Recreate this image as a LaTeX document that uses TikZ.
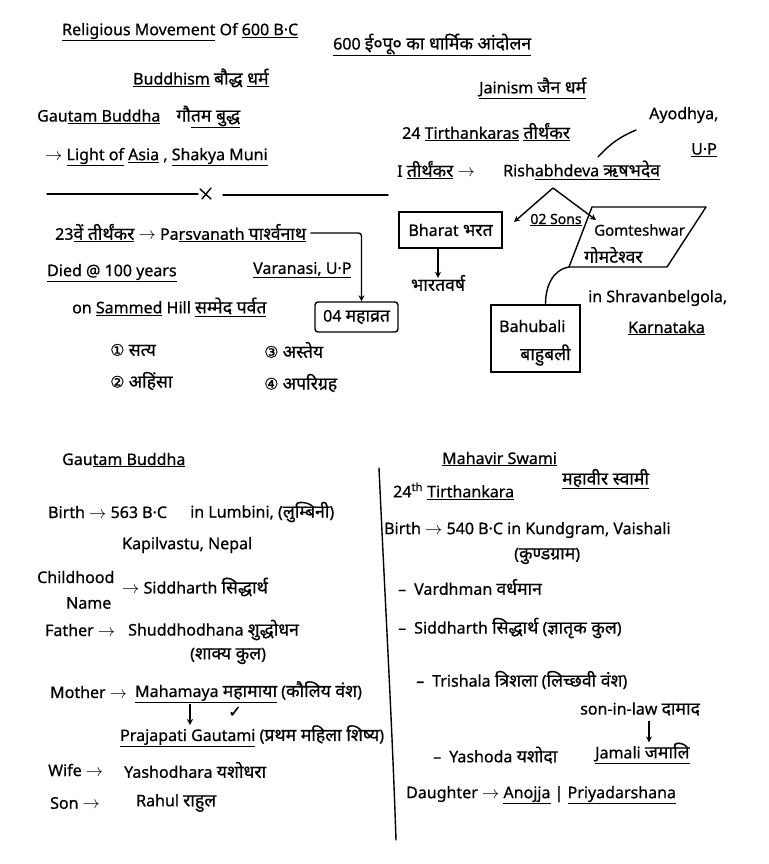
\documentclass[tikz,border=0pt]{standalone}
\usepackage{fontspec}
\setmainfont{Noto Sans}
\newfontfamily\latfont{Noto Sans}[FakeBold=0.6]
\newfontfamily\devfont[Script=Devanagari,Scale=1.1,FakeBold=0.6]{Noto Sans}
\newfontfamily\djv{DejaVu Sans}[FakeBold=0.6]
\usetikzlibrary{arrows.meta}
\newcommand\hi[1]{{\devfont #1}}
\newcommand\und[1]{\underline{#1}}
\begin{document}
\begin{tikzpicture}[x=1pt,y=-1pt,
  font=\latfont\fontsize{16}{18}\selectfont,
  txt/.style={anchor=west,inner sep=0pt},
  ctr/.style={inner sep=0pt},
  line/.style={line width=1.4pt,line cap=round},
  arr/.style={line width=1.4pt,-{Stealth[length=6pt,width=6pt]}},
  boxed/.style={draw,line width=1.4pt}]
\fill[white] (0,0) rectangle (768,864);
\useasboundingbox (0,0) rectangle (768,864);

% ---------- top ----------
\node[txt] (title) at (62,32) {\und{Religious Movement} Of \und{600 B·C}};
\node[txt] (htitle) at (333,45) {\und{600 \hi{ई०पू० का धार्मिक आंदोलन}}};
\node[txt] (buddhism) at (133,78) {\und{Buddhism} \hi{बौद्ध \und{धर्म}}};
\node[txt] (jainism) at (479,88) {\und{Jainism \hi{जैन धर्म}}};

\node[txt] (gb1) at (37,117) {Gau\und{tam Buddha}\quad \hi{गौ\und{तम बुद्ध}}};
\node[txt] (light) at (45,157) {$\to$ \und{Light of} \und{Asia} , \und{Shakya Muni}};

\node[txt] (t24) at (402,132) {24 \und{Tirthankaras} \und{\hi{तीर्थंकर}}};
\node[txt] (ayodhya) at (649,115) {Ayodhya,};
\node[txt] (up) at (691,150) {\und{U·P}};
\node[txt] (first) at (397,170) {I \und{\hi{तीर्थंकर}} $\to$};
\node[txt] (rishabh) at (503,170) {Rish\und{abhdeva \hi{ऋषभदेव}}};
\coordinate (ay1) at (598,157);
\coordinate (ay2) at (636,130);
\draw[line] (ay1) to[bend left=12] (ay2);

% separator
\coordinate (s1) at (47,194);
\coordinate (s2) at (198,194);
\coordinate (s3) at (223,195);
\coordinate (s4) at (388,195);
\draw[line] (s1) -- (s2);
\draw[line] (s3) -- (s4);
\draw[line] (200,189) -- (211,199);
\draw[line] (202,199) -- (211,188);

% ---------- Jain upper right ----------
\coordinate (apex) at (553,188);
\coordinate (bt) at (514,222);
\coordinate (gt) at (596,220);
\draw[arr] (apex) -- (bt);
\draw[arr] (apex) -- (gt);
\node[ctr,font=\latfont\fontsize{14}{16}\selectfont] (sons) at (556,220) {\und{02 Sons}};

\node[boxed,minimum width=103pt,minimum height=36pt,inner sep=2pt] (bharat) at (450.5,230) {Bharat \hi{भरत}};
\node[ctr] (bhv) at (438,283) {\hi{भारतवर्ष}};
\draw[arr] (bharat.south -| bhv.north) -- ([yshift=-3pt]bhv.north);

\coordinate (pTL) at (592,207);
\coordinate (pTR) at (706,207);
\coordinate (pBR) at (667,267);
\coordinate (pBL) at (569,267);
\draw[line,line join=round] (pTL) -- (pTR) -- (pBR) -- (pBL) -- cycle;
\node[txt,font=\latfont\fontsize{15}{17}\selectfont] (gom1) at (594,230) {Gomteshwar};
\node[txt] (gom2) at (584,255) {\hi{गोमटेश्वर}};

\node[boxed,minimum width=89pt,minimum height=67pt] (bahu) at (535.5,338.5) {};
\node[txt] (bahu1) at (499,326) {Bahubali};
\node[txt] (bahu2) at (520,355) {\hi{बाहुबली}};
\draw[line] (pBL) to[out=190,in=90] ([xshift=10pt]bahu.north);

\node[txt] (shrav) at (588,298) {in Shravanbelgola,};
\node[txt] (karn) at (628,328) {\und{Karnataka}};

% ---------- Buddha upper left ----------
\node[txt] (p23) at (55,233) {23\und{\hi{वें तीर्थंकर}} $\to$ Pa\und{rsvanath \hi{पार्श्वनाथ}}};
\node[txt] (died) at (47,273) {\und{Died @ 100 years}};
\node[txt] (varanasi) at (253,270) {\und{Varanasi, U·P}};
\node[txt] (sammed) at (72,307) {on \und{Sammed} Hill \und{\hi{सम्मेद पर्वत}}};
\node[boxed,rounded corners=3pt,minimum width=83pt,minimum height=30pt,inner sep=2pt] (vrat) at (356.5,317) {04 \hi{महाव्रत}};
\draw[arr,rounded corners=3pt] ([xshift=4pt]p23.east) -| ([xshift=5pt]vrat.north);

\node[txt] (v1) at (110,350) {{\djv ①} \hi{सत्य}};
\node[txt] (v2) at (110,381) {{\djv ②} \hi{अहिंसा}};
\node[txt] (v3) at (264,350) {{\djv ③} \hi{अस्तेय}};
\node[txt] (v4) at (264,383) {{\djv ④} \hi{अपरिग्रह}};

% ---------- divider ----------
\coordinate (d1) at (379,468);
\coordinate (d2) at (396,840);
\draw[line] (d1) .. controls (385,600) and (392,720) .. (d2);

% ---------- Gautam Buddha lower left ----------
\node[txt] (gb2) at (62,460) {Gau\und{tam Buddha}};
\node[txt] (birthL) at (48,512) {Birth $\to$ 563 B·C};
\node[txt] (birthR) at (190,512) {in Lumbini, (\hi{लुम्बिनी})};
\node[txt] (kapil) at (122,545) {Kapilvastu, Nepal};
\node[txt] (child) at (37,577) {Childhood};
\node[txt] (cname) at (66,603) {Name};
\node[txt] (siddh) at (122,587) {$\to$ Siddharth \hi{सिद्धार्थ}};
\node[txt] (fatherL) at (45,630) {Father $\to$};
\node[txt] (fatherR) at (128,630) {Shuddhodhana \hi{शुद्धोधन}};
\node[txt] (shakya) at (190,656) {(\hi{शाक्य कुल})};
\node[txt] (motherL) at (50,692) {Mother $\to$};
\node[txt] (maha) at (135,692) {\und{Mahamaya \hi{महामाया}} (\hi{कौलिय वंश})};
\node[txt] (praj) at (120,736) {\und{Prajapati Gautami} (\hi{प्रथम महिला शिष्य})};
\coordinate (ma1) at (190,704);
\draw[arr] (ma1) -- (ma1 |- praj.north);
\node[ctr] (tick) at (235,712) {\djv ✓};
\node[txt] (wifeL) at (48,770) {Wife $\to$};
\node[txt] (wifeR) at (124,770) {Yashodhara \hi{यशोधरा}};
\node[txt] (sonL) at (50,803) {Son $\to$};
\node[txt] (sonR) at (136,803) {Rahul \hi{राहुल}};

% ---------- Mahavir lower right ----------
\node[txt] (mahavir) at (442,459) {\und{Mahavir Swami}};
\node[txt] (mdev) at (562,479) {\und{\hi{महावीर स्वामी}}};
\node[txt] (t24b) at (393,491) {24\textsuperscript{th} \und{Tirthankara}};
\node[txt] (birth2) at (384,530) {Birth $\to$ 540 B·C in Kundgram, Vaishali};
\node[txt] (kund) at (514,556) {(\hi{कुण्डग्राम})};
\node[txt] (vard) at (398,587) {–\enspace Vardhman \hi{वर्धमान}};
\node[txt] (sid2) at (398,628) {–\enspace Siddharth \hi{सिद्धार्थ} (\hi{ज्ञातृक कुल})};
\node[txt] (tri) at (416,680) {–\enspace Trishala \hi{त्रिशला} (\hi{लिच्छवी वंश})};
\node[txt] (sil) at (580,709) {son-in-law \hi{दामाद}};
\node[txt] (yash) at (433,755) {–\enspace Yashoda \hi{यशोदा}};
\node[txt] (jam) at (595,753) {\und{Jamali \hi{जमालि}}};
\coordinate (sl) at (649,721);
\draw[arr] (sl) -- (sl |- jam.north);
\node[txt] (daught) at (406,795) {Daughter $\to$ \und{Anojja} | \und{Priyadarshana}};
\end{tikzpicture}
\end{document}
